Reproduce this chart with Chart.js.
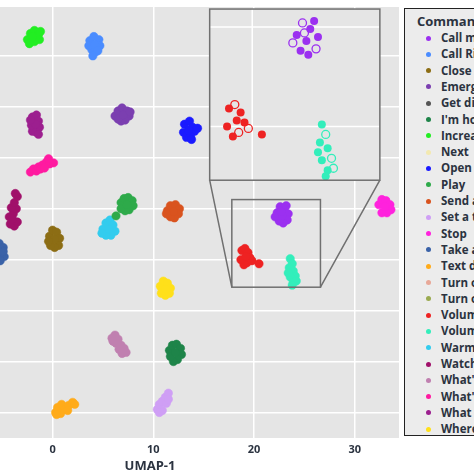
<!DOCTYPE html>
<html><head><meta charset="utf-8">
<script src="https://cdn.jsdelivr.net/npm/chart.js@4"></script>
<style>
html,body{margin:0;padding:0;background:#fff;overflow:hidden;font-family:"Open Sans",sans-serif}
#wrap{position:relative;width:474px;height:474px;overflow:hidden}
#c{position:absolute;left:-5px;top:0}
#legend{position:absolute;left:404px;top:8px;width:80px;height:428px;border:1.5px solid #222;background:#ececec;overflow:hidden;white-space:nowrap;box-sizing:border-box}
#legend .t{position:absolute;left:12px;top:3px;font-weight:700;font-size:13px;color:#2b3340}
#legend .i{position:absolute;left:36px;font-weight:700;font-size:11.5px;color:#2b3340;line-height:14px}
#legend .d{position:absolute;left:21px;width:5px;height:5px;border-radius:50%}
</style></head><body>
<div id="wrap"><canvas id="c" width="474" height="474"></canvas><div id="legend"></div></div>
<script>
const legendTitle = "Command";
const labels = ["Call mom","Call Rick","Close the door","Emergency call","Get directions","I'm home","Increase volume","Next","Open the door","Play","Send a message","Set a timer","Stop","Take a picture","Text dad","Turn on lights","Turn off lights","Volume up","Volume down","Warm up","Watch TV","What's the time","What's the weather","What time is it","Where am I"];
const colors = ["#9b30f0","#4a8cff","#8c6d14","#7b3fb0","#555555","#1e8449","#22ee22","#f3e9b0","#1a1aff","#2eaa4a","#d9531e","#cf9ff5","#ff22dd","#3a62a8","#ffab1a","#e8a898","#9aaa50","#ee2222","#33eebb","#33ccee","#a0106a","#c080b0","#ff1aa0","#9c1f8f","#ffe01a"];
const xTicks = [0,10,20,30];
const callM=[[22.3,19.6],[22.6,20.2],[23.0,19.9],[23.4,19.5],[23.3,18.9],[22.9,18.6],[22.5,18.8],[22.1,19.2],[22.8,19.3],[23.2,20.3],[22.7,19.7]];
const callRi=[[3.7,36.5],[4.1,36.9],[4.6,36.6],[4.7,36.0],[4.3,35.4],[3.9,35.6],[3.6,36.0],[4.2,36.1],[4.5,35.5],[4.0,35.0]];
const closeD=[[-0.3,17.3],[0.0,17.9],[0.4,17.7],[0.7,17.1],[0.6,16.4],[0.2,16.2],[-0.2,16.4],[0.2,17.0],[-0.4,16.8]];
const emerg=[[6.2,29.1],[6.5,29.6],[6.9,29.9],[7.4,29.6],[7.6,29.1],[7.2,28.7],[6.8,28.6],[6.5,28.8],[7.0,29.2],[7.7,29.5]];
const getDi=[];
const imHo=[[11.6,6.1],[11.9,6.6],[12.3,6.7],[12.7,6.3],[12.8,5.7],[12.4,5.2],[12.0,5.0],[11.7,5.5],[12.2,5.9]];
const increa=[[-2.5,36.6],[-2.2,37.2],[-1.8,37.5],[-1.4,37.1],[-1.3,36.6],[-1.8,36.4],[-2.3,36.2],[-1.6,36.9],[-2.0,36.9],[-1.2,37.4]];
const next=[];
const openD=[[13.1,28.3],[13.6,28.6],[13.9,28.0],[14.1,27.6],[13.7,27.1],[13.3,27.0],[13.0,27.5],[13.5,27.7],[14.4,27.9],[13.8,26.8]];
const play=[[6.8,20.6],[7.1,21.0],[7.5,21.1],[7.9,20.8],[8.0,20.3],[7.6,19.9],[7.2,19.8],[6.8,20.0],[7.4,20.4],[6.3,19.3]];
const sendA=[[11.4,19.8],[11.7,20.3],[12.2,20.4],[12.6,20.0],[12.5,19.5],[12.1,19.1],[11.7,19.2],[12.0,19.7],[11.3,19.5]];
const setAt=[[10.4,0.3],[10.6,0.8],[10.9,1.1],[11.2,1.5],[11.5,1.9],[11.3,0.9],[10.9,0.2],[11.5,1.3],[10.6,0.0]];
const stop=[[32.4,20.4],[32.7,20.9],[33.1,20.8],[33.5,20.4],[33.6,19.9],[33.2,19.6],[32.7,19.6],[33.0,20.2]];
const takeA=[[-5.3,16.6],[-4.9,16.2],[-5.1,15.6],[-4.8,15.3],[-5.2,14.9],[-4.9,15.8]];
const textD=[[0.3,0.0],[0.5,0.5],[0.9,0.8],[1.2,0.3],[0.8,-0.1],[1.6,0.7],[2.0,1.0],[2.2,0.8],[1.5,0.2],[0.4,-0.2]];
const turnOn=[];
const turnOff=[];
const volUp=[[18.8,15.9],[19.1,16.1],[19.4,15.7],[19.6,15.2],[19.3,14.7],[19.0,14.5],[18.7,15.0],[19.8,14.9],[19.2,15.3],[20.5,14.6]];
const volDown=[[23.6,15.1],[23.8,14.6],[23.5,14.2],[23.9,13.9],[24.1,13.4],[23.6,13.3],[23.9,12.8],[24.2,12.9],[23.4,13.7],[23.8,12.5]];
const warm=[[5.0,18.0],[5.3,18.6],[5.7,18.9],[6.0,18.4],[6.2,17.8],[5.8,17.4],[5.3,17.4],[5.6,18.0],[4.9,17.6]];
const watch=[[-4.2,18.5],[-3.8,18.3],[-3.5,18.7],[-4.3,19.2],[-3.9,19.5],[-3.6,20.0],[-4.1,20.1],[-3.8,20.6],[-3.5,21.2],[-3.7,21.5],[-4.0,19.0]];
const whatsTime=[[5.9,7.3],[6.2,7.6],[6.5,7.2],[6.3,6.8],[6.8,6.6],[7.1,6.3],[7.3,5.9],[6.9,5.8],[6.0,7.0],[6.6,6.2]];
const whatsWeather=[[-2.2,23.6],[-1.9,23.9],[-1.6,23.7],[-1.4,24.1],[-1.0,24.3],[-0.6,24.6],[-0.3,24.4],[0.1,24.5],[-0.4,24.9],[-1.2,23.9],[-0.8,24.0]];
const whatTime=[[-2.0,29.0],[-1.6,29.2],[-1.4,28.6],[-1.3,28.0],[-1.6,27.5],[-2.0,27.6],[-2.1,28.2],[-1.7,28.3],[-1.4,27.3],[-2.2,28.7]];
const whereAm=[[10.7,12.4],[11.0,12.9],[11.4,12.7],[11.7,12.2],[11.6,11.7],[11.2,11.5],[10.8,11.7],[11.2,12.1]];
const series=[callM,callRi,closeD,emerg,getDi,imHo,increa,next,openD,play,sendA,setAt,stop,takeA,textD,turnOn,turnOff,volUp,volDown,warm,watch,whatsTime,whatsWeather,whatTime,whereAm];
const insetSeries=[0,17,18];

const lg=document.getElementById('legend');
lg.innerHTML='<div class="t">'+legendTitle+'</div>'+labels.map((l,i)=>
 `<div class="d" style="top:${26.5+i*16.3}px;background:${colors[i]}"></div><div class="i" style="top:${22+i*16.3}px">${l}</div>`).join('');

const small={x0:17.8,x1:26.6,y0:12.3,y1:20.9};
const big={x0:15.6,x1:32.5,y0:22.8,y1:39.6};
const insetPlugin={id:'inset',
 beforeDraw(ch){const a=ch.chartArea,c=ch.ctx;c.save();c.fillStyle='#e5e5e5';c.fillRect(0,a.top,a.right,a.bottom-a.top);c.restore();},
 afterDatasetsDraw(ch){
  const c=ch.ctx,X=ch.scales.x,Y=ch.scales.y;
  const sx0=X.getPixelForValue(small.x0),sx1=X.getPixelForValue(small.x1),sy0=Y.getPixelForValue(small.y1),sy1=Y.getPixelForValue(small.y0);
  const bx0=X.getPixelForValue(big.x0),bx1=X.getPixelForValue(big.x1),by0=Y.getPixelForValue(big.y1),by1=Y.getPixelForValue(big.y0);
  const mx=p=>bx0+(p-sx0)*(bx1-bx0)/(sx1-sx0), my=p=>by0+(p-sy0)*(by1-by0)/(sy1-sy0);
  c.save();
  c.fillStyle='#e5e5e5';c.fillRect(bx0,by0,bx1-bx0,by1-by0);
  c.beginPath();c.rect(bx0,by0,bx1-bx0,by1-by0);c.clip();
  c.strokeStyle='#fff';c.lineWidth=1.5;
  [15,20].forEach(v=>{const p=my(Y.getPixelForValue(v));c.beginPath();c.moveTo(bx0,p);c.lineTo(bx1,p);c.stroke();});
  [20].forEach(v=>{const p=mx(X.getPixelForValue(v));c.beginPath();c.moveTo(p,by0);c.lineTo(p,by1);c.stroke();});
  insetSeries.forEach(si=>{series[si].forEach((pt,k)=>{
    const px=mx(X.getPixelForValue(pt[0])),py=my(Y.getPixelForValue(pt[1]));
    c.fillStyle=colors[si];c.strokeStyle=colors[si];c.lineWidth=1.3;
    c.beginPath();c.arc(px,py,4,0,Math.PI*2);
    if(k%3===1){c.stroke();}else c.fill();
  });});
  c.restore();
  c.save();c.strokeStyle='#707070';c.lineWidth=1.5;
  c.strokeRect(sx0,sy0,sx1-sx0,sy1-sy0);c.strokeRect(bx0,by0,bx1-bx0,by1-by0);
  c.beginPath();c.moveTo(sx0,sy1);c.lineTo(bx0,by1);c.moveTo(sx1,sy1);c.lineTo(bx1,by1);c.stroke();
  c.fillStyle='#2b3340';c.font='bold 13px "Open Sans"';c.textAlign='center';c.textBaseline='middle';
  c.fillText('UMAP-1',155,466);
  c.restore();
 }};
new Chart(document.getElementById('c'),{type:'scatter',
 data:{datasets:series.map((d,i)=>({label:labels[i],data:d.map(p=>({x:p[0],y:p[1]})),backgroundColor:colors[i],borderColor:colors[i],pointRadius:4.2,borderWidth:0.5}))},
 options:{responsive:false,animation:false,events:[],
  layout:{padding:{left:0,right:70,top:7,bottom:0}},
  plugins:{legend:{display:false},tooltip:{enabled:false}},
  scales:{
   x:{type:'linear',min:-5.25,max:34.4,
     afterBuildTicks:s=>{s.ticks=xTicks.map(v=>({value:v}));},
     afterFit:s=>{s.height=36;},
     border:{display:false},grid:{color:'#ffffff',lineWidth:1.5,drawTicks:false},
     ticks:{padding:5,color:'#2b3340',font:{family:'Open Sans',size:11,weight:'bold'}}},
   y:{type:'linear',min:-2.5,max:39.8,
     afterBuildTicks:s=>{s.ticks=[0,5,10,15,20,25,30,35].map(v=>({value:v}));},
     afterFit:s=>{s.width=0;},
     border:{display:false},grid:{color:'#ffffff',lineWidth:1.5,drawTicks:false},
     ticks:{display:false}}
  }},
 plugins:[insetPlugin]});
</script></body></html>
